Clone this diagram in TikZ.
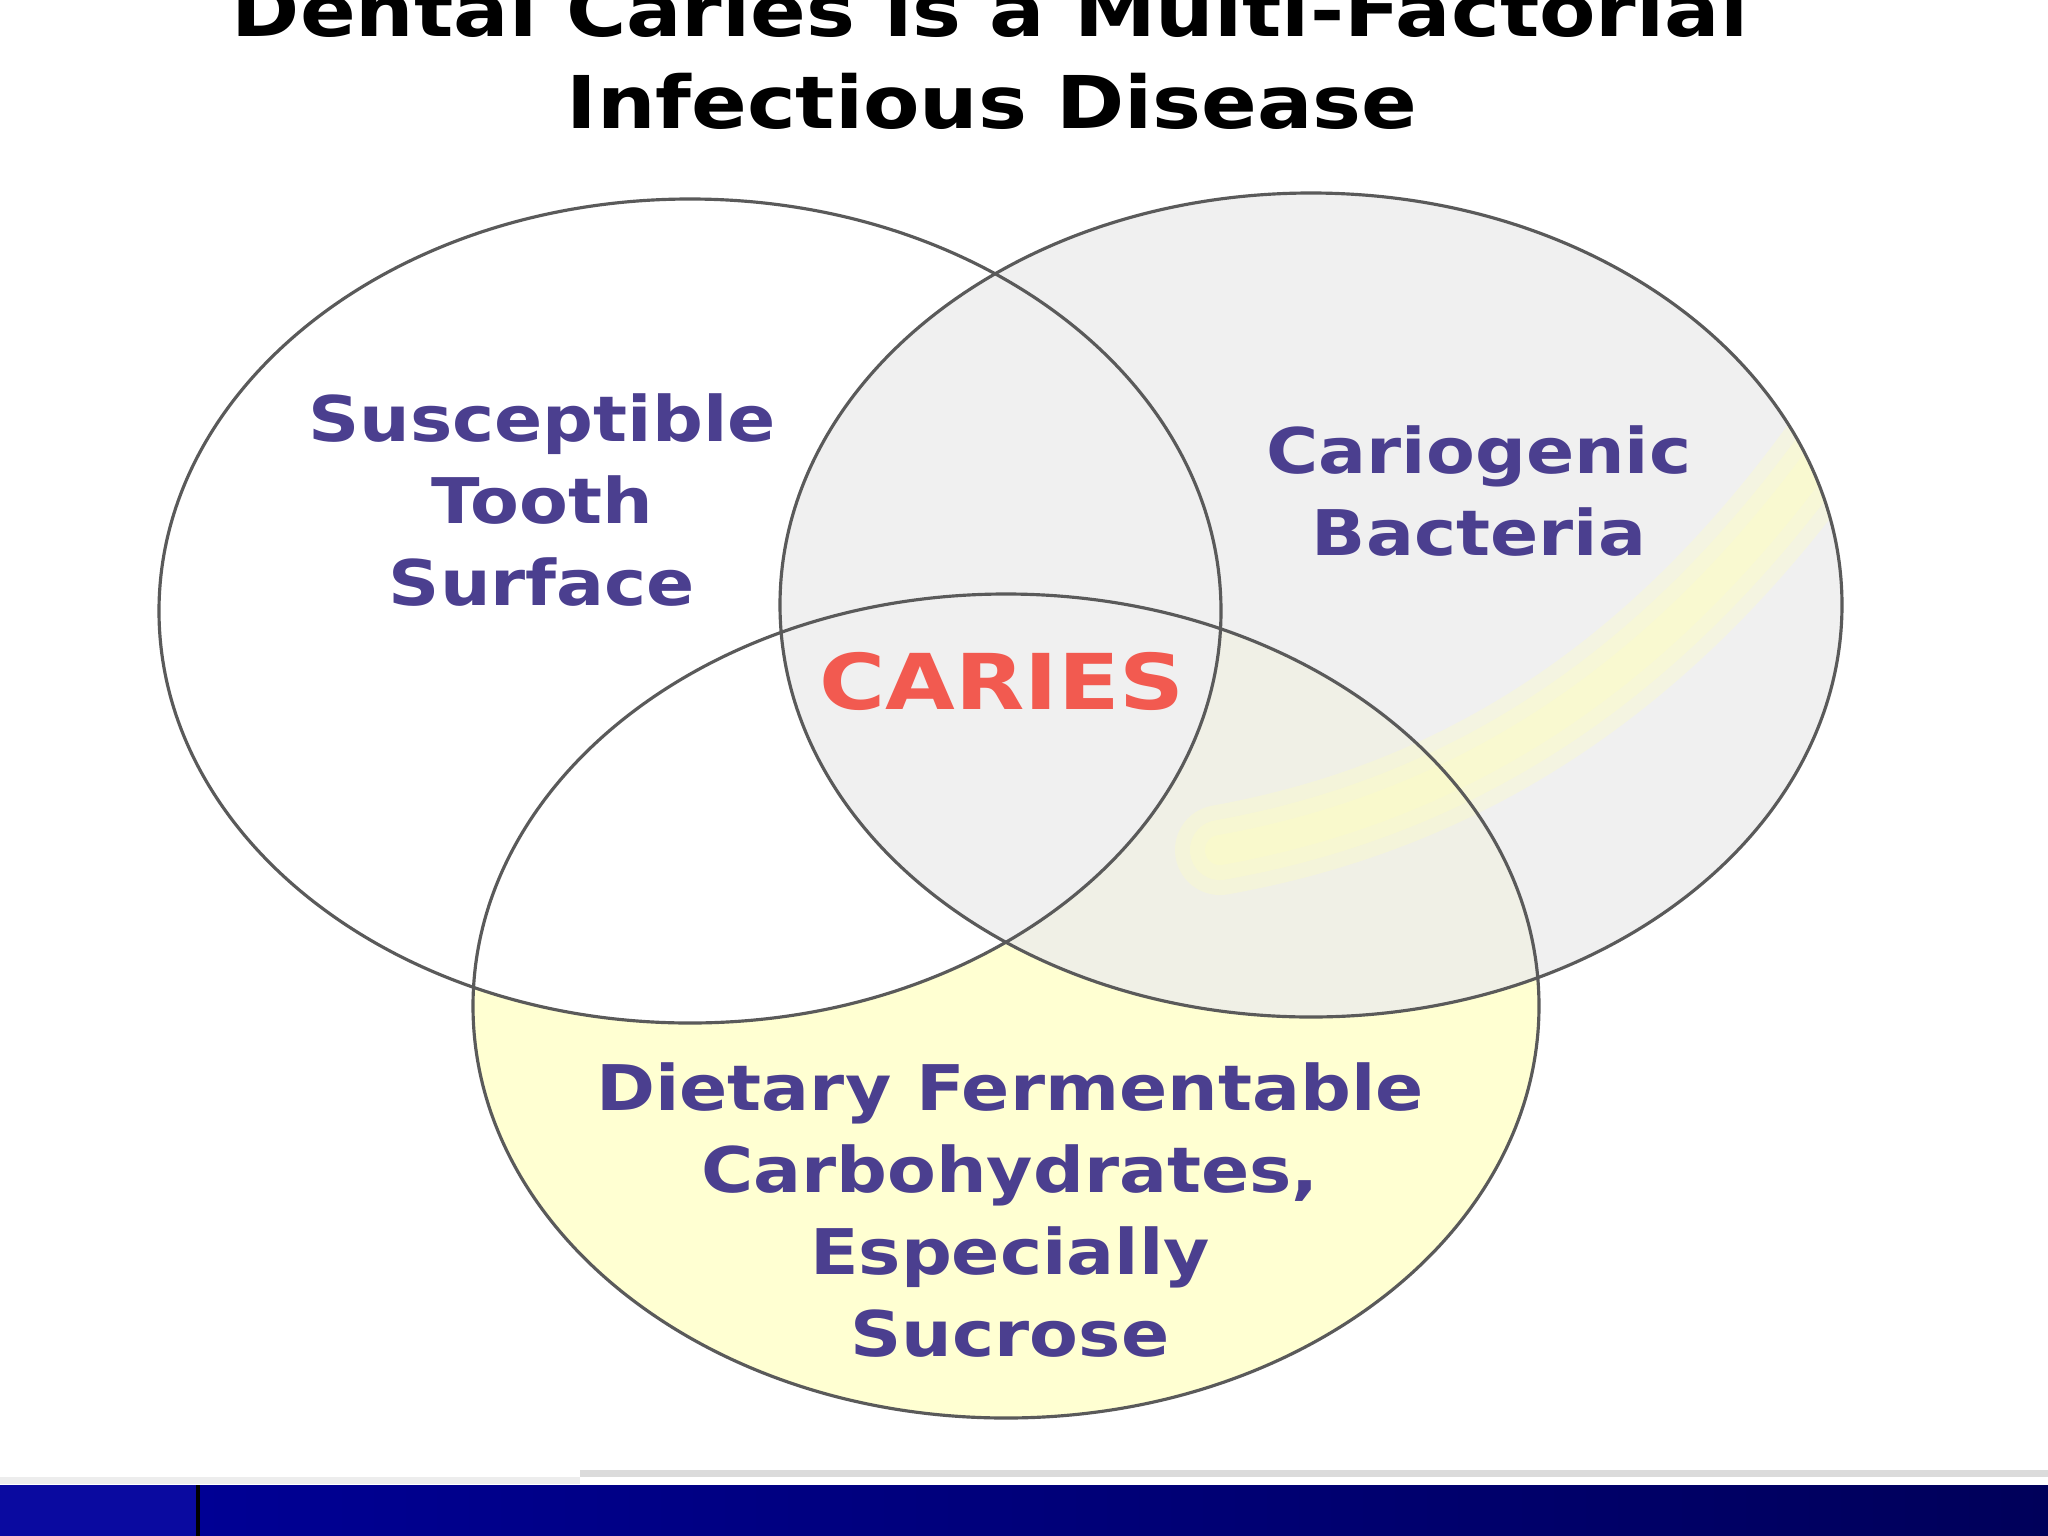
\documentclass[tikz,border=0pt]{standalone}
\usepackage{fontspec}
\setmainfont{DejaVu Sans}
\definecolor{labc}{HTML}{4B3F8F}
\definecolor{cariesc}{HTML}{F25A50}
\definecolor{yfill}{HTML}{FFFFD2}
\definecolor{ystreak}{HTML}{FFFFC0}
\definecolor{gfill}{HTML}{ECECEC}
\definecolor{edgec}{HTML}{5A5A5A}
\definecolor{barl}{HTML}{0A0AA0}
\definecolor{barm}{HTML}{000094}
\definecolor{barr}{HTML}{00005A}
\tikzset{
  circ/.style={draw=edgec, line width=0.9pt},
  lab/.style={text=labc, font=\bfseries\fontsize{17.9}{23.3}\selectfont, align=center, xscale=1.13},
  ttl/.style={text=black, font=\bfseries\fontsize{20.7}{26}\selectfont, xscale=1.13, anchor=base},
  streak/.style={ystreak, opacity=0.3, line cap=round},
}
\begin{document}
\begin{tikzpicture}[x=0.01cm,y=-0.01cm]
\clip (0,0) rectangle (2048,1536);
\fill[white] (0,0) rectangle (2048,1536);
% title
\node[ttl] (t1) at (990,36) {Dental Caries is a Multi-Factorial};
\node[ttl] (t2) at (992,128) {Infectious Disease};
% fills
\fill[yfill] (1006,1006) ellipse [x radius=533, y radius=412];
\fill[white] (690,611) ellipse [x radius=531, y radius=412];
\fill[gfill, opacity=0.78] (1311,605) ellipse [x radius=531, y radius=412];
\begin{scope}
  \clip (1311,605) ellipse [x radius=531, y radius=412];
  \draw[streak, line width=9mm] (1860,400) .. controls (1700,640) and (1500,800) .. (1220,850);
  \draw[streak, line width=6mm] (1860,400) .. controls (1700,640) and (1500,800) .. (1220,850);
  \draw[streak, line width=3mm] (1860,400) .. controls (1700,640) and (1500,800) .. (1220,850);
\end{scope}
% outlines
\draw[circ] (690,611) ellipse [x radius=531, y radius=412];
\draw[circ] (1311,605) ellipse [x radius=531, y radius=412];
\draw[circ] (1006,1006) ellipse [x radius=533, y radius=412];
% labels
\node[lab] (tooth) at (542,500) {Susceptible\\Tooth\\Surface};
\node[lab] (bact) at (1479,491) {Cariogenic\\Bacteria};
\node[lab] (diet) at (1010,1210) {Dietary Fermentable\\Carbohydrates,\\Especially\\Sucrose};
\node[text=cariesc, font=\bfseries\fontsize{21.9}{26}\selectfont, xscale=1.17] (caries) at (1002,681) {CARIES};
% bottom
\draw[black!7, line width=2pt] (0,1480) -- (580,1480);
\draw[black!14, line width=2pt] (580,1473) -- (2048,1473);
\fill[barl] (0,1485) rectangle (198,1536);
\shade[left color=barm, right color=barr] (198,1485) rectangle (2048,1536);
\draw[black, line width=1pt] (198,1485) -- (198,1536);
\end{tikzpicture}
\end{document}
